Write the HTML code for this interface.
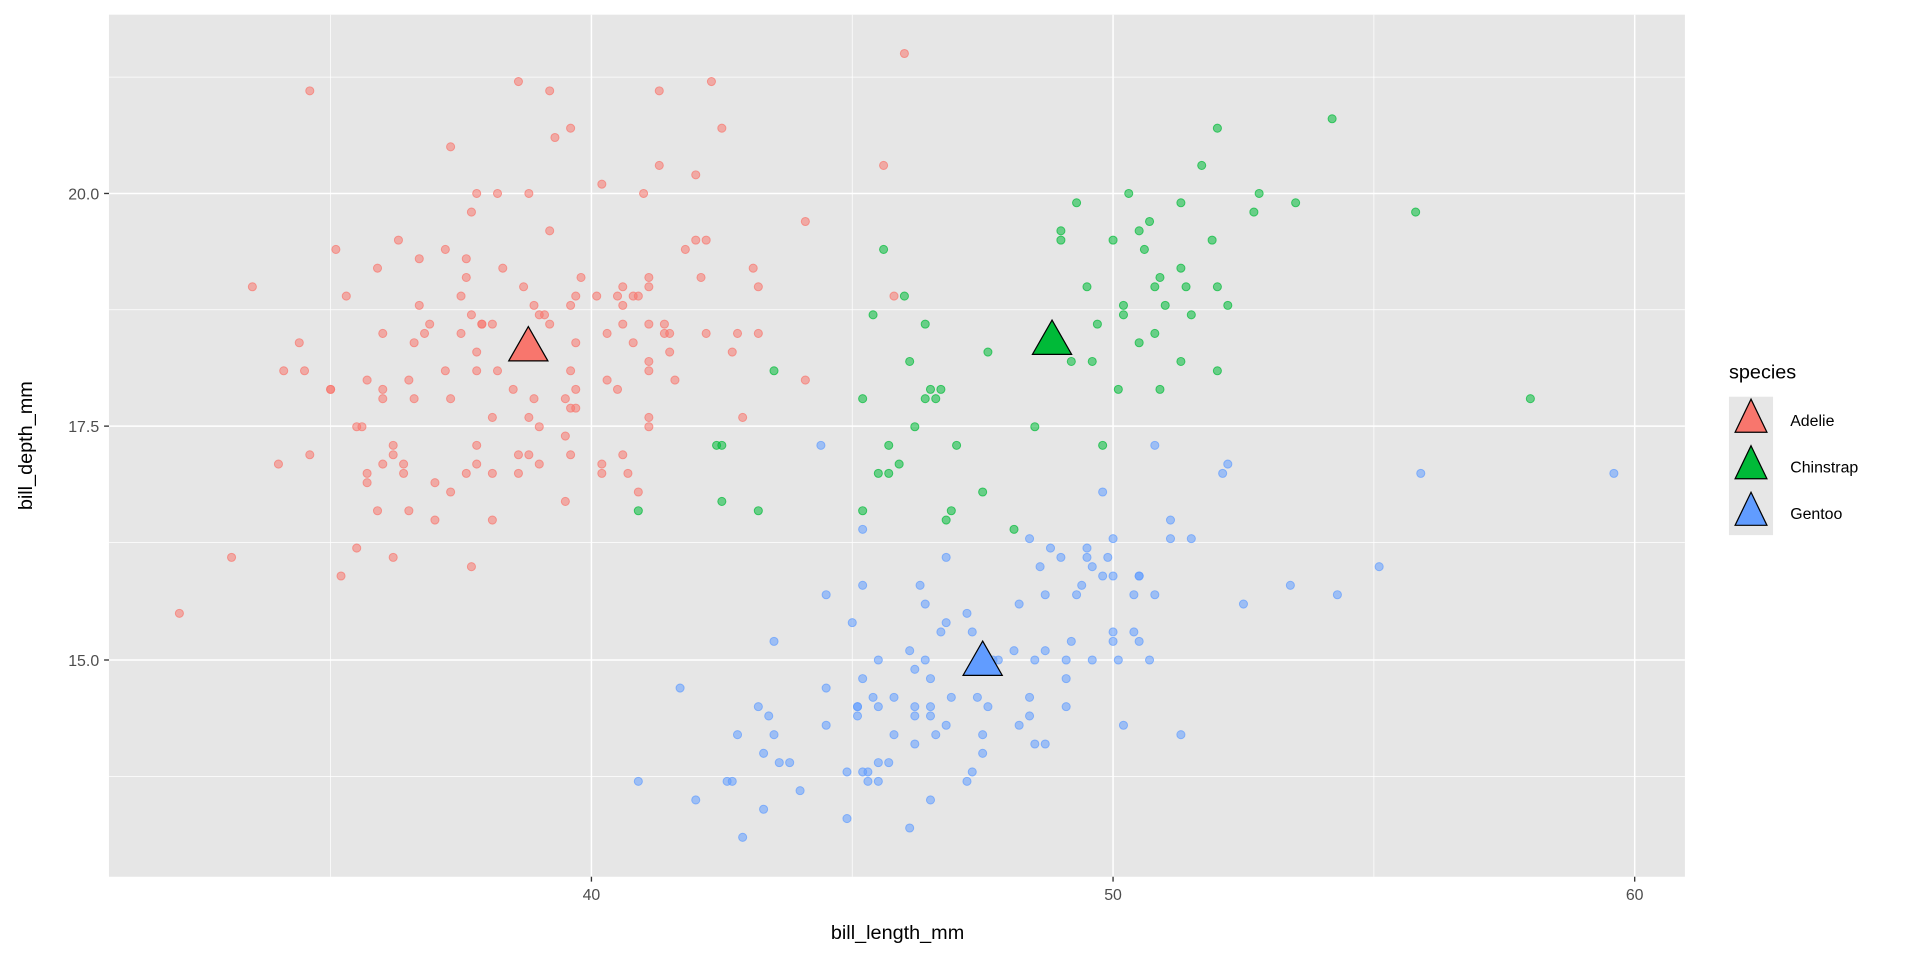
<!DOCTYPE html>
<html><head><meta charset="utf-8"><style>html,body{margin:0;padding:0;background:#fff}svg{display:block}</style></head>
<body>
<svg id="s" width="1920" height="960" viewBox="0 0 1568 784" xmlns="http://www.w3.org/2000/svg" font-family="Liberation Sans, Arial, sans-serif">
<rect x="89" y="12" width="1287" height="704" fill="#E6E6E6"/>
<g stroke="#fff" stroke-width="0.6">
<line x1="270" y1="12" x2="270" y2="716"/><line x1="696" y1="12" x2="696" y2="716"/><line x1="1122" y1="12" x2="1122" y2="716"/>
<line x1="89" y1="63" x2="1376" y2="63"/><line x1="89" y1="253" x2="1376" y2="253"/><line x1="89" y1="443" x2="1376" y2="443"/><line x1="89" y1="634" x2="1376" y2="634"/>
</g>
<g stroke="#fff" stroke-width="1.2">
<line x1="483" y1="12" x2="483" y2="716"/><line x1="909" y1="12" x2="909" y2="716"/><line x1="1335" y1="12" x2="1335" y2="716"/>
<line x1="89" y1="158" x2="1376" y2="158"/><line x1="89" y1="348" x2="1376" y2="348"/><line x1="89" y1="539" x2="1376" y2="539"/>
</g>
<g stroke="#333" stroke-width="1.1">
<line x1="483" y1="716" x2="483" y2="720"/><line x1="909" y1="716" x2="909" y2="720"/><line x1="1335" y1="716" x2="1335" y2="720"/>
<line x1="85" y1="158" x2="89" y2="158"/><line x1="85" y1="348" x2="89" y2="348"/><line x1="85" y1="539" x2="89" y2="539"/>
</g>
<g fill="#4D4D4D" font-size="13" text-anchor="middle">
<text x="483" y="735">40</text><text x="909" y="735">50</text><text x="1335" y="735">60</text>
</g>
<g fill="#4D4D4D" font-size="13" text-anchor="end">
<text x="81" y="163">20.0</text><text x="81" y="353">17.5</text><text x="81" y="544">15.0</text>
</g>
<text x="733" y="767" font-size="16.2" text-anchor="middle" fill="#000">bill_length_mm</text>
<text transform="translate(26,364) rotate(-90)" font-size="16.2" text-anchor="middle" fill="#000">bill_depth_mm</text>
<g id="pts"></g>
<text x="1412" y="309" font-size="16.2" fill="#000">species</text>
<rect x="1412" y="324" width="36" height="113" fill="#E6E6E6"/>
<g stroke="#000" stroke-width="1">
<polygon points="1430,326 1443,353 1417,353" fill="#F8766D"/>
<polygon points="1430,364 1443,391 1417,391" fill="#00BA38"/>
<polygon points="1430,402 1443,429 1417,429" fill="#619CFF"/>
</g>
<g font-size="13" fill="#000">
<text x="1462" y="348">Adelie</text><text x="1462" y="386">Chinstrap</text><text x="1462" y="424">Gentoo</text>
</g>
</svg>
<script>
var A="39.1,18.7;39.5,17.4;40.3,18;36.7,19.3;39.3,20.6;38.9,17.8;39.2,19.6;34.1,18.1;42,20.2;37.8,17.1;37.8,17.3;41.1,17.6;38.6,21.2;34.6,21.1;36.6,17.8;38.7,19;42.5,20.7;34.4,18.4;46,21.5;37.8,18.3;37.7,18.7;35.9,19.2;38.2,18.1;38.8,17.2;35.3,18.9;40.6,18.6;40.5,17.9;37.9,18.6;40.5,18.9;39.5,16.7;37.2,18.1;39.5,17.8;40.9,18.9;36.4,17;39.2,21.1;38.8,20;42.2,18.5;37.6,19.3;39.8,19.1;36.5,18;40.8,18.4;36,18.5;44.1,19.7;37,16.9;39.6,18.8;41.1,19;37.5,18.9;36,17.9;42.3,21.2;39.6,17.7;40.1,18.9;35,17.9;42,19.5;34.5,18.1;41.4,18.6;39,17.5;40.6,18.8;36.5,16.6;37.6,19.1;35.7,16.9;41.3,21.1;37.6,17;41.1,18.2;36.4,17.1;41.6,18;35.5,16.2;41.1,19.1;35.9,16.6;41.8,19.4;33.5,19;39.7,18.4;39.6,17.2;45.8,18.9;35.5,17.5;42.8,18.5;40.9,16.8;37.2,19.4;36.2,16.1;42.1,19.1;34.6,17.2;42.9,17.6;36.7,18.8;35.1,19.4;37.3,17.8;41.3,20.3;36.3,19.5;36.9,18.6;38.3,19.2;38.9,18.8;35.7,18;41.1,18.1;34,17.1;39.6,18.1;36.2,17.3;40.8,18.9;38.1,18.6;40.3,18.5;33.1,16.1;43.2,18.5;35,17.9;41,20;37.7,16;37.8,20;37.9,18.6;39.7,18.9;38.6,17.2;38.2,20;38.1,17;43.2,19;38.1,16.5;45.6,20.3;39.7,17.7;42.2,19.5;39.6,20.7;42.7,18.3;38.6,17;37.3,20.5;35.7,17;41.1,18.6;36.2,17.2;37.7,19.8;40.2,17;41.4,18.5;35.2,15.9;40.6,19;38.8,17.6;41.5,18.3;39,17.1;44.1,18;38.5,17.9;43.1,19.2;36.8,18.5;37.5,18.5;38.1,17.6;41.1,17.5;35.6,17.5;40.2,20.1;37,16.5;39.7,17.9;40.2,17.1;40.6,17.2;32.1,15.5;40.7,17;37.3,16.8;39,18.7;39.2,18.6;36.6,18.4;36,17.8;37.8,18.1;36,17.1;41.5,18.5";
var G="46.1,13.2;50,16.3;48.7,14.1;50,15.2;47.6,14.5;46.5,13.5;45.4,14.6;46.7,15.3;43.3,13.4;46.8,15.4;40.9,13.7;49,16.1;45.5,13.7;48.4,14.6;45.8,14.6;49.3,15.7;42,13.5;49.2,15.2;46.2,14.5;48.7,15.1;50.2,14.3;45.1,14.5;46.5,14.5;46.3,15.8;42.9,13.1;46.1,15.1;44.5,14.3;47.8,15;48.2,14.3;50,15.3;47.3,15.3;42.8,14.2;45.1,14.5;59.6,17;49.1,14.8;48.4,16.3;42.6,13.7;44.4,17.3;44,13.6;48.7,15.7;42.7,13.7;49.6,16;45.3,13.7;49.6,15;50.5,15.9;43.6,13.9;45.5,13.9;50.5,15.9;44.9,13.3;45.2,15.8;46.6,14.2;48.5,14.1;45.1,14.4;50.1,15;46.5,14.4;45,15.4;43.8,13.9;45.5,15;43.2,14.5;50.4,15.3;45.3,13.8;46.2,14.9;45.7,13.9;54.3,15.7;45.8,14.2;49.8,16.8;46.2,14.4;49.5,16.2;43.5,14.2;50.7,15;47.7,15;46.4,15.6;48.2,15.6;46.5,14.8;46.4,15;48.6,16;47.5,14.2;51.1,16.3;45.2,13.8;45.2,16.4;49.1,14.5;52.5,15.6;47.4,14.6;50,15.9;44.9,13.8;50.8,17.3;43.4,14.4;51.3,14.2;47.5,14;52.1,17;47.5,15;52.2,17.1;45.5,14.5;49.5,16.1;44.5,14.7;50.8,15.7;49.4,15.8;46.9,14.6;48.4,14.4;51.1,16.5;48.5,15;55.9,17;47.2,15.5;49.1,15;47.3,13.8;46.8,16.1;41.7,14.7;53.4,15.8;43.3,14;48.1,15.1;50.5,15.2;49.8,15.9;43.5,15.2;51.5,16.3;46.2,14.1;55.1,16;44.5,15.7;48.8,16.2;47.2,13.7;46.8,14.3;50.4,15.7;45.2,14.8;49.9,16.1";
var C="46.5,17.9;50,19.5;51.3,19.2;45.4,18.7;52.7,19.8;45.2,17.8;46.1,18.2;51.3,18.2;46,18.9;51.3,19.9;46.6,17.8;51.7,20.3;47,17.3;52,18.1;45.9,17.1;50.5,19.6;50.3,20;58,17.8;46.4,18.6;49.2,18.2;42.4,17.3;48.5,17.5;43.2,16.6;50.6,19.4;46.7,17.9;52,19;50.5,18.4;49.5,19;46.4,17.8;52.8,20;40.9,16.6;54.2,20.8;42.5,16.7;51,18.8;49.7,18.6;47.5,16.8;47.6,18.3;52,20.7;46.9,16.6;53.5,19.9;49,19.5;46.2,17.5;50.9,19.1;45.5,17;50.9,17.9;50.8,18.5;50.1,17.9;49,19.6;51.5,18.7;49.8,17.3;48.1,16.4;51.4,19;45.7,17.3;50.7,19.7;42.5,17.3;52.2,18.8;45.2,16.6;49.3,19.9;50.2,18.8;45.6,19.4;51.9,19.5;46.8,16.5;45.7,17;55.8,19.8;43.5,18.1;49.6,18.2;50.8,19;50.2,18.7";
function X(x){return 483+(x-40)*42.6}function Y(y){return 158+(20-y)*76.2}
var h="";
[[A,"#F8766D"],[C,"#00BA38"],[G,"#619CFF"]].forEach(function(p){p[0].split(";").forEach(function(s){var v=s.split(",");h+='<circle cx="'+X(+v[0]).toFixed(1)+'" cy="'+Y(+v[1]).toFixed(1)+'" r="3.3" fill="'+p[1]+'" fill-opacity="0.55" stroke="'+p[1]+'" stroke-opacity="0.7" stroke-width="0.8"/>';});});
[[38.79,18.35,"#F8766D"],[48.83,18.42,"#00BA38"],[47.5,14.98,"#619CFF"]].forEach(function(m){var x=X(m[0]),y=Y(m[1]);h+='<polygon points="'+x+','+(y-17)+' '+(x+16)+','+(y+11)+' '+(x-16)+','+(y+11)+'" fill="'+m[2]+'" stroke="#000" stroke-width="1"/>';});
document.getElementById("pts").innerHTML=h;
</script>
</body></html>
